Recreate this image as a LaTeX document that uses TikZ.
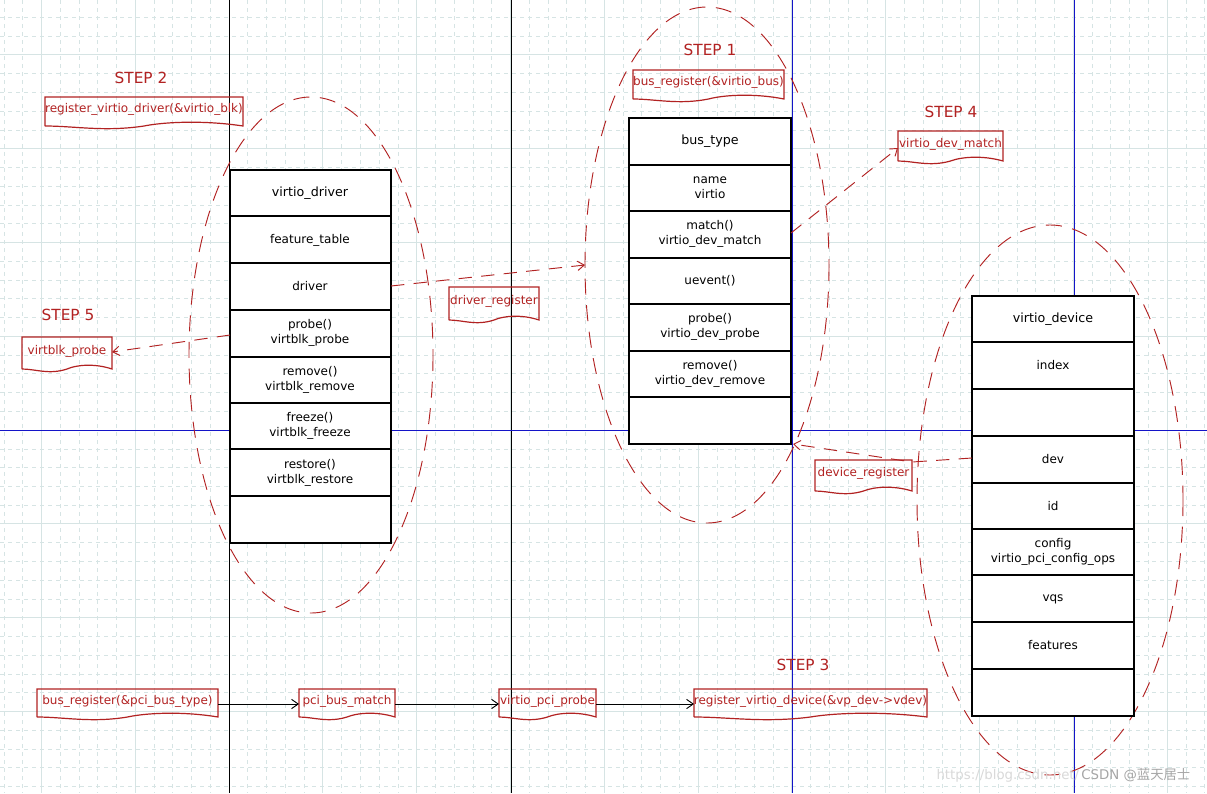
\documentclass[tikz,border=0pt]{standalone}
\usepackage{fontspec}
\setmainfont{DejaVu Sans}
\newfontfamily\cjk{Noto Sans CJK SC}
\usetikzlibrary{arrows.meta}
\definecolor{rd}{RGB}{178,34,34}
\definecolor{gridc}{RGB}{214,228,228}
\definecolor{bl}{RGB}{20,20,200}
\newcommand{\docshape}[6]{% name x1 y1 x2 y2 text
  \node[doctxt] (#1) at ({(#2+#4)/2},{(#3+#5)/2-2}) {#6};
  \draw[rd,line width=0.9pt] (#2,#5) -- (#2,#3) -- (#4,#3) -- (#4,#5)
    .. controls ({#4-0.2*(#4-#2)},#5-6) and ({#2+0.6*(#4-#2)},#5-4) .. ({(#2+#4)/2},#5)
    .. controls ({#2+0.3*(#4-#2)},#5+6) and ({#2+0.15*(#4-#2)},#5) .. (#2,#5);}
\begin{document}
\begin{tikzpicture}[x=0.75pt,y=-0.75pt,
  boxl/.style={draw=black,line width=0.8pt},
  cell/.style={font=\fontsize{9}{11}\selectfont,align=center,text=black},
  doctxt/.style={font=\fontsize{9}{11}\selectfont,text=rd,inner sep=1pt},
  steplbl/.style={font=\fontsize{11.5}{13}\selectfont,text=rd},
  ell/.style={draw=rd,dash pattern=on 12pt off 8pt,line width=0.7pt},
  darr/.style={draw=rd,dash pattern=on 10pt off 7pt,line width=0.7pt,-{Straight Barb[length=5pt,width=7pt]}},
  sarr/.style={draw=black,line width=0.7pt,-{Straight Barb[length=5pt,width=7pt]}}]
\useasboundingbox (0,0) rectangle (1207,793);
\fill[white] (0,0) rectangle (1207,793);
% grid
\foreach \i in {-12,...,52} {
  \pgfmathsetmacro\gx{229+18.76*\i}
  \pgfmathtruncatemacro\m{mod(\i+60,5)}
  \ifnum\m=0 \draw[gridc,line width=0.5pt] (\gx,0) -- (\gx,793);
  \else \draw[gridc,line width=0.4pt,dash pattern=on 3pt off 3pt] (\gx,0) -- (\gx,793); \fi}
\foreach \i in {-23,...,20} {
  \pgfmathsetmacro\gy{430+18.76*\i}
  \pgfmathtruncatemacro\m{mod(\i+60,5)}
  \ifnum\m=0 \draw[gridc,line width=0.5pt] (0,\gy) -- (1207,\gy);
  \else \draw[gridc,line width=0.4pt,dash pattern=on 3pt off 3pt] (0,\gy) -- (1207,\gy); \fi}
\draw[black,line width=0.6pt] (229,0) -- (229,793) (511,0) -- (511,793);
\draw[bl,line width=0.6pt] (792,0) -- (792,793) (1074,0) -- (1074,793) (0,430) -- (1207,430);
% ellipses
\draw[ell] (311,355) ellipse [x radius=122,y radius=258];
\draw[ell] (707,265) ellipse [x radius=122,y radius=258];
\draw[ell] (1050,500) ellipse [x radius=133,y radius=275];
% virtio_driver
\fill[white] (230,170) rectangle (391,543);
\foreach \a/\b in {170/216,216/263,263/310,310/357,357/403,403/449,449/496,496/543} {\draw[boxl] (230,\a) rectangle (391,\b);}
\draw[line width=1.6pt] (230,216) -- (391,216);
\node[cell,font=\fontsize{9.5}{11}\selectfont] (d1) at (310,193) {virtio\_driver};
\node[cell] (d2) at (310,240) {feature\_table};
\node[cell] (d3) at (310,286) {driver};
\node[cell] (d4) at (310,333) {probe()\\virtblk\_probe};
\node[cell] (d5) at (310,380) {remove()\\virtblk\_remove};
\node[cell] (d6) at (310,426) {freeze()\\virtblk\_freeze};
\node[cell] (d7) at (310,473) {restore()\\virtblk\_restore};
% bus_type
\fill[white] (629,118) rectangle (791,444);
\foreach \a/\b in {118/165,165/211,211/258,258/304,304/351,351/397,397/444} {\draw[boxl] (629,\a) rectangle (791,\b);}
\node[cell,font=\fontsize{9.5}{11}\selectfont] (b1) at (710,141) {bus\_type};
\node[cell] (b2) at (710,188) {name\\virtio};
\node[cell] (b3) at (710,234) {match()\\virtio\_dev\_match};
\node[cell] (b4) at (710,281) {uevent()};
\node[cell] (b5) at (710,327) {probe()\\virtio\_dev\_probe};
\node[cell] (b6) at (710,374) {remove()\\virtio\_dev\_remove};
% virtio_device
\fill[white] (972,296) rectangle (1134,716);
\foreach \a/\b in {296/342,342/389,389/436,436/483,483/529,529/575,575/622,622/669,669/716} {\draw[boxl] (972,\a) rectangle (1134,\b);}
\draw[line width=1.6pt] (972,669) -- (1134,669);
\node[cell,font=\fontsize{9.5}{11}\selectfont] (v1) at (1053,319) {virtio\_device};
\node[cell] (v2) at (1053,365) {index};
\node[cell] (v4) at (1053,459) {dev};
\node[cell] (v5) at (1053,506) {id};
\node[cell] (v6) at (1053,552) {config\\virtio\_pci\_config\_ops};
\node[cell] (v7) at (1053,599) {vqs};
\node[cell] (v8) at (1053,645) {features};
% doc labels
\docshape{l1}{45}{97}{243}{126}{register\_virtio\_driver(\&virtio\_blk)}
\docshape{l2}{633}{70}{784}{99}{bus\_register(\&virtio\_bus)}
\docshape{l3}{898}{131}{1003}{161}{virtio\_dev\_match}
\docshape{l4}{449}{287}{539}{320}{driver\_register}
\docshape{l5}{22}{337}{112}{369}{virtblk\_probe}
\docshape{l6}{815}{460}{912}{491}{device\_register}
\docshape{p1}{37}{689}{218}{717}{bus\_register(\&pci\_bus\_type)}
\docshape{p2}{299}{689}{395}{717}{pci\_bus\_match}
\docshape{p3}{499}{689}{596}{717}{virtio\_pci\_probe}
\docshape{p4}{694}{689}{927}{717}{register\_virtio\_device(\&vp\_dev->vdev)}
% steps
\node[steplbl] (s2) at (141,78) {STEP 2};
\node[steplbl] (s1) at (710,50) {STEP 1};
\node[steplbl] (s4) at (951,112) {STEP 4};
\node[steplbl] (s5) at (68,315) {STEP 5};
\node[steplbl] (s3) at (803,665) {STEP 3};
% arrows
\coordinate (t1) at (585,265);
\draw[darr] (391,286) -- (t1);
\draw[darr] (791,233) -- (898,148);
\draw[darr] (230,335) -- (112,352);
\draw[darr] (972,458) -- (912,462) -- (793,444);
\draw[sarr] (218,704) -- (299,704);
\draw[sarr] (395,704) -- (499,704);
\draw[sarr] (596,704) -- (694,704);
% watermark
\node[text=gray!70,font=\fontsize{10}{12}\selectfont,anchor=east] (wm) at (1195,775) {\textcolor{gray!30}{https://blog.csdn.net/}\,CSDN @{\cjk 蓝天居士}};
\end{tikzpicture}
\end{document}
